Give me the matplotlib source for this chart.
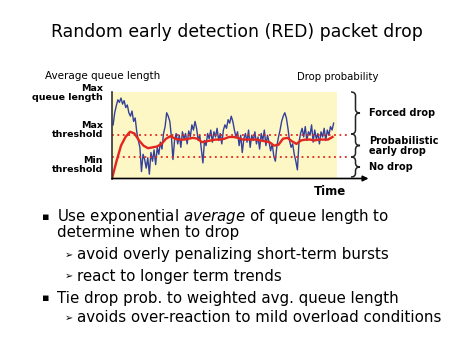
import matplotlib
matplotlib.use("Agg")
import matplotlib.pyplot as plt
from matplotlib.path import Path
from matplotlib.patches import PathPatch
import numpy as np

# Data (queue length in % of max queue length, time in % of the window)
queue_length = [62, 76, 84, 91, 88, 93, 86, 90, 82, 85,
                76, 72, 78, 66, 70, 54, 44, 36, 8, 28,
                22, 12, 24, 5, 30, 20, 33, 16, 36, 28,
                42, 34, 52, 60, 76, 72, 66, 48, 22, 44,
                52, 40, 50, 36, 54, 46, 52, 40, 55, 48,
                62, 56, 66, 58, 44, 50, 34, 18, 44, 38,
                52, 46, 56, 42, 54, 48, 58, 44, 52, 40,
                56, 62, 58, 68, 64, 72, 66, 56, 48, 54,
                38, 50, 30, 46, 52, 42, 56, 36, 50, 44,
                54, 40, 48, 34, 52, 44, 56, 38, 50, 42,
                32, 40, 26, 20, 38, 48, 56, 66, 72, 76,
                70, 58, 44, 36, 40, 28, 20, 10, 42, 52,
                58, 48, 60, 44, 54, 50, 62, 42, 56, 46,
                52, 40, 54, 48, 58, 44, 56, 50, 60, 56, 64]
avg_time = [0, 2, 4, 6, 8, 10, 12, 14, 16, 18, 20, 22, 24, 26, 28, 30, 32,
            34, 36, 38, 40, 42, 44, 46, 48, 50, 52, 54, 56, 58, 60, 62, 64,
            66, 68, 70, 72, 74, 76, 78, 80, 82, 84, 86, 88, 90, 92, 94, 96, 98]
avg_queue = [0, 20, 38, 48, 54, 52, 44, 38, 35, 36, 37, 40, 46, 49, 46, 45, 45,
             46, 47, 46, 42, 43, 44, 45, 45, 46, 48, 48, 47, 45, 45, 45, 45,
             44, 43, 42, 38, 39, 46, 47, 43, 40, 44, 45, 45, 44, 45, 45, 45, 48]
min_thresh = 25
max_thresh = 50
max_queue = 100

W, H = 474, 355


def px(x, y):
    return x / W, 1 - y / H


fig = plt.figure(figsize=(W / 100, H / 100), dpi=100)
ax = fig.add_axes([112 / W, 1 - 178.5 / H, 225 / W, 86.5 / H])
ax.set_facecolor("#fcf7c4")

t = np.linspace(0.5, 98.5, len(queue_length))
ax.plot(t, queue_length, color="#34409a", lw=1.0)
ax.plot(avg_time, avg_queue, color="#e3261f", lw=1.7)
for th in (min_thresh, max_thresh):
    ax.plot([0, 104.5], [th, th], color="#e3261f", lw=1.3, ls=(0, (1, 2)),
            clip_on=False)

ax.set_xlim(0, 100)
ax.set_ylim(0, max_queue)
ax.set_xticks([])
ax.set_yticks([])
for s in ("top", "right", "bottom"):
    ax.spines[s].set_visible(False)
ax.spines["left"].set_color("#333333")
ax.spines["left"].set_linewidth(1.2)

# time axis arrow
ax.annotate("", xy=(114, 0), xytext=(0, 0), xycoords="data",
            arrowprops=dict(arrowstyle="-|>", color="black", lw=1.2,
                            mutation_scale=8, shrinkA=0, shrinkB=0),
            annotation_clip=False)

# axis labels
fig.text(*px(45, 76), "Average queue length", fontsize=7.5, va="center")
fig.text(*px(297, 77), "Drop probability", fontsize=7.3, va="center")
fig.text(*px(330, 192), "Time", fontsize=8.5, fontweight="bold",
         ha="center", va="center")
for y, lab in [(93, "Max\nqueue length"), (130, "Max\nthreshold"),
               (165, "Min\nthreshold")]:
    fig.text(*px(103, y), lab, fontsize=6.8, fontweight="bold", ha="right",
             va="center", linespacing=1.0)


# braces on the right
def brace(y0, y1, x0=351, w=9):
    ym = (y0 + y1) / 2
    xc = x0 + w / 2
    verts = [(x0, y0), (xc, y0), (xc, y0 + 4),
             (xc, ym - 4), (xc, ym), (x0 + w, ym),
             (xc, ym), (xc, ym + 4), (xc, y1 - 4),
             (xc, y1), (x0, y1)]
    codes = [Path.MOVETO, Path.CURVE3, Path.CURVE3,
             Path.LINETO, Path.CURVE3, Path.CURVE3,
             Path.CURVE3, Path.CURVE3, Path.LINETO,
             Path.CURVE3, Path.CURVE3]
    verts = [px(x, y) for x, y in verts]
    fig.add_artist(PathPatch(Path(verts, codes), transform=fig.transFigure,
                             fill=False, lw=1.1, color="#222222"))
    return ym


for (y0, y1), lab in [((92, 134), "Forced drop"),
                      ((134, 157), "Probabilistic\nearly drop"),
                      ((157, 177), "No drop")]:
    ym = brace(y0, y1)
    fig.text(*px(369, ym), lab, fontsize=7, fontweight="bold", va="center",
             linespacing=1.0)

# slide title and bullets
fig.text(*px(237, 32), "Random early detection (RED) packet drop",
         fontsize=12.4, ha="center", va="center")

bullets = [(42, 57, 217, "\u25aa", r"Use exponential $\mathit{average}$ of queue length to"),
           (None, 57, 233, None, "determine when to drop"),
           (65, 77, 255, "\u27a2", "avoid overly penalizing short-term bursts"),
           (65, 77, 276, "\u27a2", "react to longer term trends"),
           (42, 57, 298, "\u25aa", "Tie drop prob. to weighted avg. queue length"),
           (65, 77, 318, "\u27a2", "avoids over-reaction to mild overload conditions")]
for bx, tx, y, mark, txt in bullets:
    if mark:
        fig.text(*px(bx, y), mark, fontsize=8 if mark == "\u25aa" else 7,
                 va="center")
    fig.text(*px(tx, y), txt, fontsize=10.8, va="center")

fig.savefig("out.png", dpi=100)
